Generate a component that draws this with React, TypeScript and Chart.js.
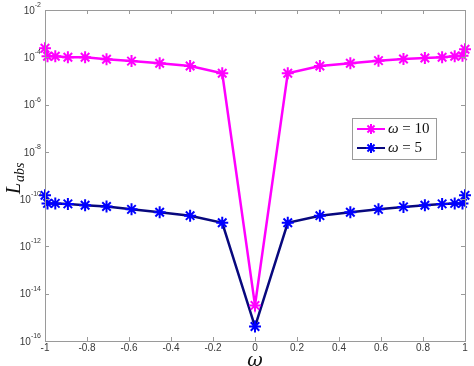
import React, { useEffect, useRef } from "react";
import { Chart, registerables } from "chart.js";

Chart.register(...registerables);

const xVals = [-1, -0.988, -0.951, -0.891, -0.809, -0.707, -0.588, -0.454, -0.309, -0.156, 0, 0.156, 0.309, 0.454, 0.588, 0.707, 0.809, 0.891, 0.951, 0.988, 1];
const w10 = [2.4e-4, 1.1e-4, 1.1e-4, 1.0e-4, 1.0e-4, 8.3e-5, 6.9e-5, 5.6e-5, 4.3e-5, 2.1e-5, 3.2e-15, 2.1e-5, 4.3e-5, 5.6e-5, 7.2e-5, 8.5e-5, 9.3e-5, 1.0e-4, 1.1e-4, 1.15e-4, 2.2e-4];
const w5 = [1.45e-10, 6.6e-11, 6.6e-11, 6.3e-11, 5.5e-11, 4.9e-11, 3.7e-11, 2.8e-11, 2.0e-11, 1.0e-11, 4.1e-16, 1.0e-11, 2.0e-11, 2.8e-11, 3.7e-11, 4.7e-11, 5.5e-11, 6.3e-11, 6.6e-11, 6.6e-11, 1.45e-10];
const xTicks = [-1, -0.8, -0.6, -0.4, -0.2, 0, 0.2, 0.4, 0.6, 0.8, 1];
const yExps = [-16, -14, -12, -10, -8, -6, -4, -2];
const seriesNames = ["10", "5"];

const MAG = "#ff00ff";
const BLUE_LINE = "#08087e";
const BLUE_PT = "#0000ff";

function drawStar(ctx: CanvasRenderingContext2D, x: number, y: number, r: number, color: string) {
  ctx.save();
  ctx.strokeStyle = color;
  ctx.lineWidth = 2;
  ctx.beginPath();
  ctx.moveTo(x - r, y); ctx.lineTo(x + r, y);
  ctx.moveTo(x, y - r); ctx.lineTo(x, y + r);
  const d = r * Math.SQRT1_2;
  ctx.moveTo(x - d, y - d); ctx.lineTo(x + d, y + d);
  ctx.moveTo(x - d, y + d); ctx.lineTo(x + d, y - d);
  ctx.stroke();
  ctx.restore();
}

const decorPlugin = {
  id: "decor",
  afterDatasetsDraw(chart: any) {
    const ctx: CanvasRenderingContext2D = chart.ctx;
    const { left, right, top, bottom } = chart.chartArea;
    const xs = chart.scales.x;
    const ys = chart.scales.y;
    ctx.save();
    // box
    ctx.strokeStyle = "#9a9a9a";
    ctx.lineWidth = 1;
    ctx.strokeRect(left + 0.5, top + 0.5, right - left, bottom - top);
    // ticks inward
    ctx.beginPath();
    xTicks.forEach((v) => {
      const px = Math.round(xs.getPixelForValue(v)) + 0.5;
      ctx.moveTo(px, bottom); ctx.lineTo(px, bottom - 4);
      ctx.moveTo(px, top); ctx.lineTo(px, top + 4);
    });
    yExps.forEach((e) => {
      const py = Math.round(ys.getPixelForValue(Math.pow(10, e))) + 0.5;
      ctx.moveTo(left, py); ctx.lineTo(left + 4, py);
      ctx.moveTo(right, py); ctx.lineTo(right - 4, py);
    });
    ctx.stroke();
    // x tick labels
    ctx.fillStyle = "#3a3a3a";
    ctx.font = "10px 'Liberation Sans', Arial, sans-serif";
    ctx.textAlign = "center";
    ctx.textBaseline = "middle";
    xTicks.forEach((v) => {
      const px = xs.getPixelForValue(v);
      const lab = v === 0 ? "0" : Math.abs(v) === 1 ? String(v) : v.toFixed(1);
      ctx.fillText(lab, px, bottom + 7);
    });
    // y tick labels
    yExps.forEach((e) => {
      const py = ys.getPixelForValue(Math.pow(10, e));
      ctx.font = "7px 'Liberation Sans', Arial, sans-serif";
      ctx.textAlign = "right";
      const expStr = String(e);
      const ew = ctx.measureText(expStr).width;
      ctx.fillText(expStr, left - 4, py - 5);
      ctx.font = "10px 'Liberation Sans', Arial, sans-serif";
      ctx.fillText("10", left - 4 - ew, py + 1);
    });
    // axis titles
    ctx.fillStyle = "#111";
    ctx.textAlign = "center";
    ctx.font = "italic 19px 'DejaVu Serif', 'Liberation Serif', serif";
    ctx.fillText("ω", xs.getPixelForValue(0), bottom + 20);
    ctx.save();
    ctx.translate(14, 186);
    ctx.rotate(-Math.PI / 2);
    ctx.textAlign = "left";
    ctx.textBaseline = "alphabetic";
    ctx.font = "italic 20px 'Liberation Serif', serif";
    ctx.fillText("L", -8, 6);
    const lw = ctx.measureText("L").width;
    ctx.font = "italic 14px 'Liberation Serif', serif";
    ctx.fillText("abs", -8 + lw + 1, 10);
    ctx.restore();
    // legend
    const lx = 352, ly = 118, lW = 84, lH = 41;
    ctx.fillStyle = "#fff";
    ctx.fillRect(lx, ly, lW, lH);
    ctx.strokeStyle = "#9a9a9a";
    ctx.lineWidth = 1;
    ctx.strokeRect(lx + 0.5, ly + 0.5, lW, lH);
    const rows = [
      { y: 129, line: MAG, pt: MAG, name: seriesNames[0] },
      { y: 148, line: BLUE_LINE, pt: BLUE_PT, name: seriesNames[1] },
    ];
    rows.forEach((r) => {
      ctx.strokeStyle = r.line;
      ctx.lineWidth = 2;
      ctx.beginPath();
      ctx.moveTo(357, r.y); ctx.lineTo(385, r.y);
      ctx.stroke();
      drawStar(ctx, 371, r.y, 5, r.pt);
      ctx.fillStyle = "#111";
      ctx.textAlign = "left";
      ctx.textBaseline = "middle";
      ctx.font = "italic 15px 'Liberation Serif', serif";
      ctx.fillText("ω", 388, r.y);
      const ow = ctx.measureText("ω").width;
      ctx.font = "15px 'Liberation Serif', serif";
      ctx.fillText(" = " + r.name, 388 + ow, r.y);
    });
    ctx.restore();
  },
};

export default function App() {
  const ref = useRef<HTMLCanvasElement | null>(null);
  useEffect(() => {
    if (!ref.current) return;
    const chart = new Chart(ref.current, {
      type: "line",
      data: {
        datasets: [
          {
            label: "ω = " + seriesNames[0],
            data: xVals.map((x, i) => ({ x, y: w10[i] })),
            borderColor: MAG,
            backgroundColor: MAG,
            pointBorderColor: MAG,
            borderWidth: 2.5,
            pointStyle: "star",
            pointRadius: 6,
            pointBorderWidth: 2,
            clip: false,
          } as any,
          {
            label: "ω = " + seriesNames[1],
            data: xVals.map((x, i) => ({ x, y: w5[i] })),
            borderColor: BLUE_LINE,
            backgroundColor: BLUE_PT,
            pointBorderColor: BLUE_PT,
            borderWidth: 2.5,
            pointStyle: "star",
            pointRadius: 6,
            pointBorderWidth: 2,
            clip: false,
          } as any,
        ],
      },
      options: {
        animation: false,
        responsive: false,
        devicePixelRatio: 1,
        layout: { padding: { left: 0, top: 10, right: 9, bottom: 0 } },
        plugins: { legend: { display: false }, tooltip: { enabled: false } },
        scales: {
          x: {
            type: "linear",
            min: -1,
            max: 1,
            grid: { display: false },
            border: { display: false },
            ticks: { display: false },
            afterFit: (s: any) => { s.height = 25; },
          },
          y: {
            type: "logarithmic",
            min: 1e-16,
            max: 1e-2,
            grid: { display: false },
            border: { display: false },
            ticks: { display: false },
            afterBuildTicks: (s: any) => { s.ticks = yExps.map((e) => ({ value: Math.pow(10, e) })); },
            afterFit: (s: any) => { s.width = 45; },
          },
        },
      } as any,
      plugins: [decorPlugin],
    });
    return () => chart.destroy();
  }, []);
  return (
    <div style={{ position: "fixed", left: 0, top: 0, width: 474, height: 366, background: "#fff" }}>
      <canvas ref={ref} width={474} height={366} />
    </div>
  );
}
